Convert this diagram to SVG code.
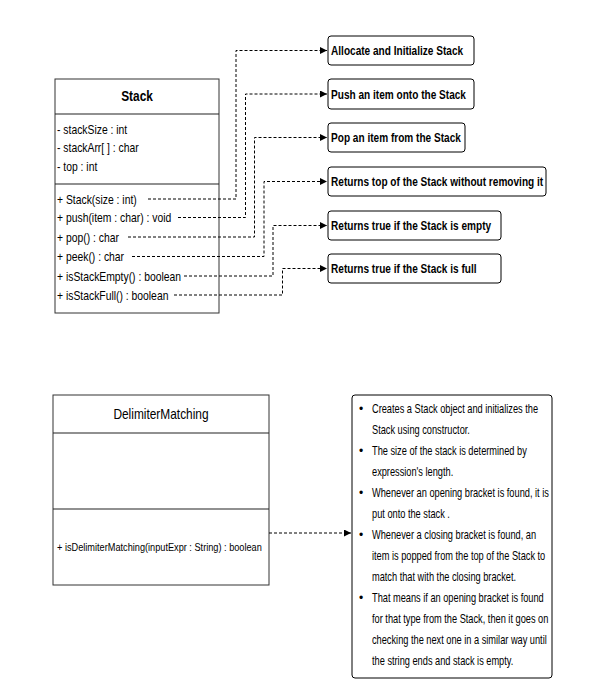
<svg xmlns="http://www.w3.org/2000/svg" width="607" height="698" viewBox="0 0 607 698">
<style>
  text { font-family: "Liberation Sans", Arial, sans-serif; fill: #000; }
  .cls { fill: #fff; stroke: #333; stroke-width: 1; }
  .div { stroke: #222; stroke-width: 1.2; fill: none; }
  .title { font-size: 14px; text-anchor: middle; }
  .mem { font-size: 12.5px; }
  .dm { font-size: 11px; }
  .lbl { fill: #fff; stroke: #000; stroke-width: 1; }
  .lt { font-size: 12px; font-weight: bold; }
  .note { font-size: 12px; }
  .conn { fill: none; stroke: #000; stroke-width: 1; stroke-dasharray: 3 2; }
</style>
<defs>
  <marker id="arr" markerWidth="8" markerHeight="8" refX="7" refY="3.5" orient="auto" markerUnits="userSpaceOnUse">
    <path d="M0,0 L7,3.5 L0,7 z" fill="#000"/>
  </marker>
</defs>
<rect width="607" height="698" fill="#fff"/>

<g id="stack">
  <rect class="cls" x="55" y="79" width="164" height="234"/>
  <line class="div" x1="55" y1="114" x2="219" y2="114"/>
  <line class="div" x1="55" y1="184" x2="219" y2="184"/>
  <text class="title" transform="translate(137,101) scale(0.85,1)" font-weight="bold">Stack</text>
  <text class="mem" transform="translate(57,133.5) scale(0.83,1)">- stackSize : int</text>
  <text class="mem" transform="translate(57,152) scale(0.83,1)">- stackArr[ ] : char</text>
  <text class="mem" transform="translate(57,171) scale(0.83,1)">- top : int</text>
  <text class="mem" transform="translate(57,203.5) scale(0.83,1)">+ Stack(size : int)</text>
  <text class="mem" transform="translate(57,222) scale(0.83,1)">+ push(item : char) : void</text>
  <text class="mem" transform="translate(57,241.5) scale(0.83,1)">+ pop() : char</text>
  <text class="mem" transform="translate(57,261) scale(0.83,1)">+ peek() : char</text>
  <text class="mem" transform="translate(57,280.5) scale(0.83,1)">+ isStackEmpty() : boolean</text>
  <text class="mem" transform="translate(57,299.5) scale(0.83,1)">+ isStackFull() : boolean</text>
</g>

<g id="lbl1">
  <rect class="lbl" x="328" y="36" width="146" height="29" rx="3"/>
  <text class="lt" transform="translate(331,55) scale(0.84,1)">Allocate and Initialize Stack</text>
</g>
<g id="lbl2">
  <rect class="lbl" x="328" y="79" width="146" height="30" rx="3"/>
  <text class="lt" transform="translate(331,98.5) scale(0.84,1)">Push an item onto the Stack</text>
</g>
<g id="lbl3">
  <rect class="lbl" x="328" y="123" width="137" height="29" rx="3"/>
  <text class="lt" transform="translate(331,142) scale(0.84,1)">Pop an item from the Stack</text>
</g>
<g id="lbl4">
  <rect class="lbl" x="328" y="167" width="218" height="29" rx="3"/>
  <text class="lt" transform="translate(331,186) scale(0.84,1)">Returns top of the Stack without removing it</text>
</g>
<g id="lbl5">
  <rect class="lbl" x="328" y="211" width="173" height="29" rx="3"/>
  <text class="lt" transform="translate(331,230) scale(0.84,1)">Returns true if the Stack is empty</text>
</g>
<g id="lbl6">
  <rect class="lbl" x="328" y="254" width="173" height="29" rx="3"/>
  <text class="lt" transform="translate(331,273) scale(0.84,1)">Returns true if the Stack is full</text>
</g>

<g id="delimiter">
  <rect class="cls" x="53" y="395" width="216" height="190"/>
  <line class="div" x1="53" y1="433" x2="269" y2="433"/>
  <line class="div" x1="53" y1="509" x2="269" y2="509"/>
  <text class="title" transform="translate(161,419) scale(0.85,1)">DelimiterMatching</text>
  <text class="dm" transform="translate(57,551) scale(0.835,1)">+ isDelimiterMatching(inputExpr : String) : boolean</text>
</g>

<g id="note">
  <rect class="lbl" x="352" y="395" width="200" height="283" rx="3"/>
  <g class="note">
    <text x="359" y="413">•</text>
    <text transform="translate(372,413) scale(0.77,1)">Creates a Stack object and initializes the</text>
    <text transform="translate(372,434) scale(0.77,1)">Stack using constructor.</text>
    <text x="359" y="455">•</text>
    <text transform="translate(372,455) scale(0.77,1)">The size of the stack is determined by</text>
    <text transform="translate(372,476) scale(0.77,1)">expression's length.</text>
    <text x="359" y="497">•</text>
    <text transform="translate(372,497) scale(0.77,1)">Whenever an opening bracket is found, it is</text>
    <text transform="translate(372,518) scale(0.77,1)">put onto the stack .</text>
    <text x="359" y="539">•</text>
    <text transform="translate(372,539) scale(0.77,1)">Whenever a closing bracket is found, an</text>
    <text transform="translate(372,560) scale(0.77,1)">item is popped from the top of the Stack to</text>
    <text transform="translate(372,581) scale(0.77,1)">match that with the closing bracket.</text>
    <text x="359" y="602">•</text>
    <text transform="translate(372,602) scale(0.77,1)">That means if an opening bracket is found</text>
    <text transform="translate(372,623) scale(0.77,1)">for that type from the Stack, then it goes on</text>
    <text transform="translate(372,644) scale(0.77,1)">checking the next one in a similar way until</text>
    <text transform="translate(372,665) scale(0.77,1)">the string ends and stack is empty.</text>
  </g>
</g>

<g id="connectors">
  <path class="conn" d="M148,199 H236 V50.5 H327" marker-end="url(#arr)"/>
  <path class="conn" d="M178,217.5 H245.5 V94 H327" marker-end="url(#arr)"/>
  <path class="conn" d="M128,237 H254.5 V137.5 H327" marker-end="url(#arr)"/>
  <path class="conn" d="M132,256.5 H264 V181.5 H327" marker-end="url(#arr)"/>
  <path class="conn" d="M184,276 H273 V225.5 H327" marker-end="url(#arr)"/>
  <path class="conn" d="M174,295 H282.5 V268.5 H327" marker-end="url(#arr)"/>
  <path class="conn" d="M269,533 H351" marker-end="url(#arr)"/>
</g>
</svg>
